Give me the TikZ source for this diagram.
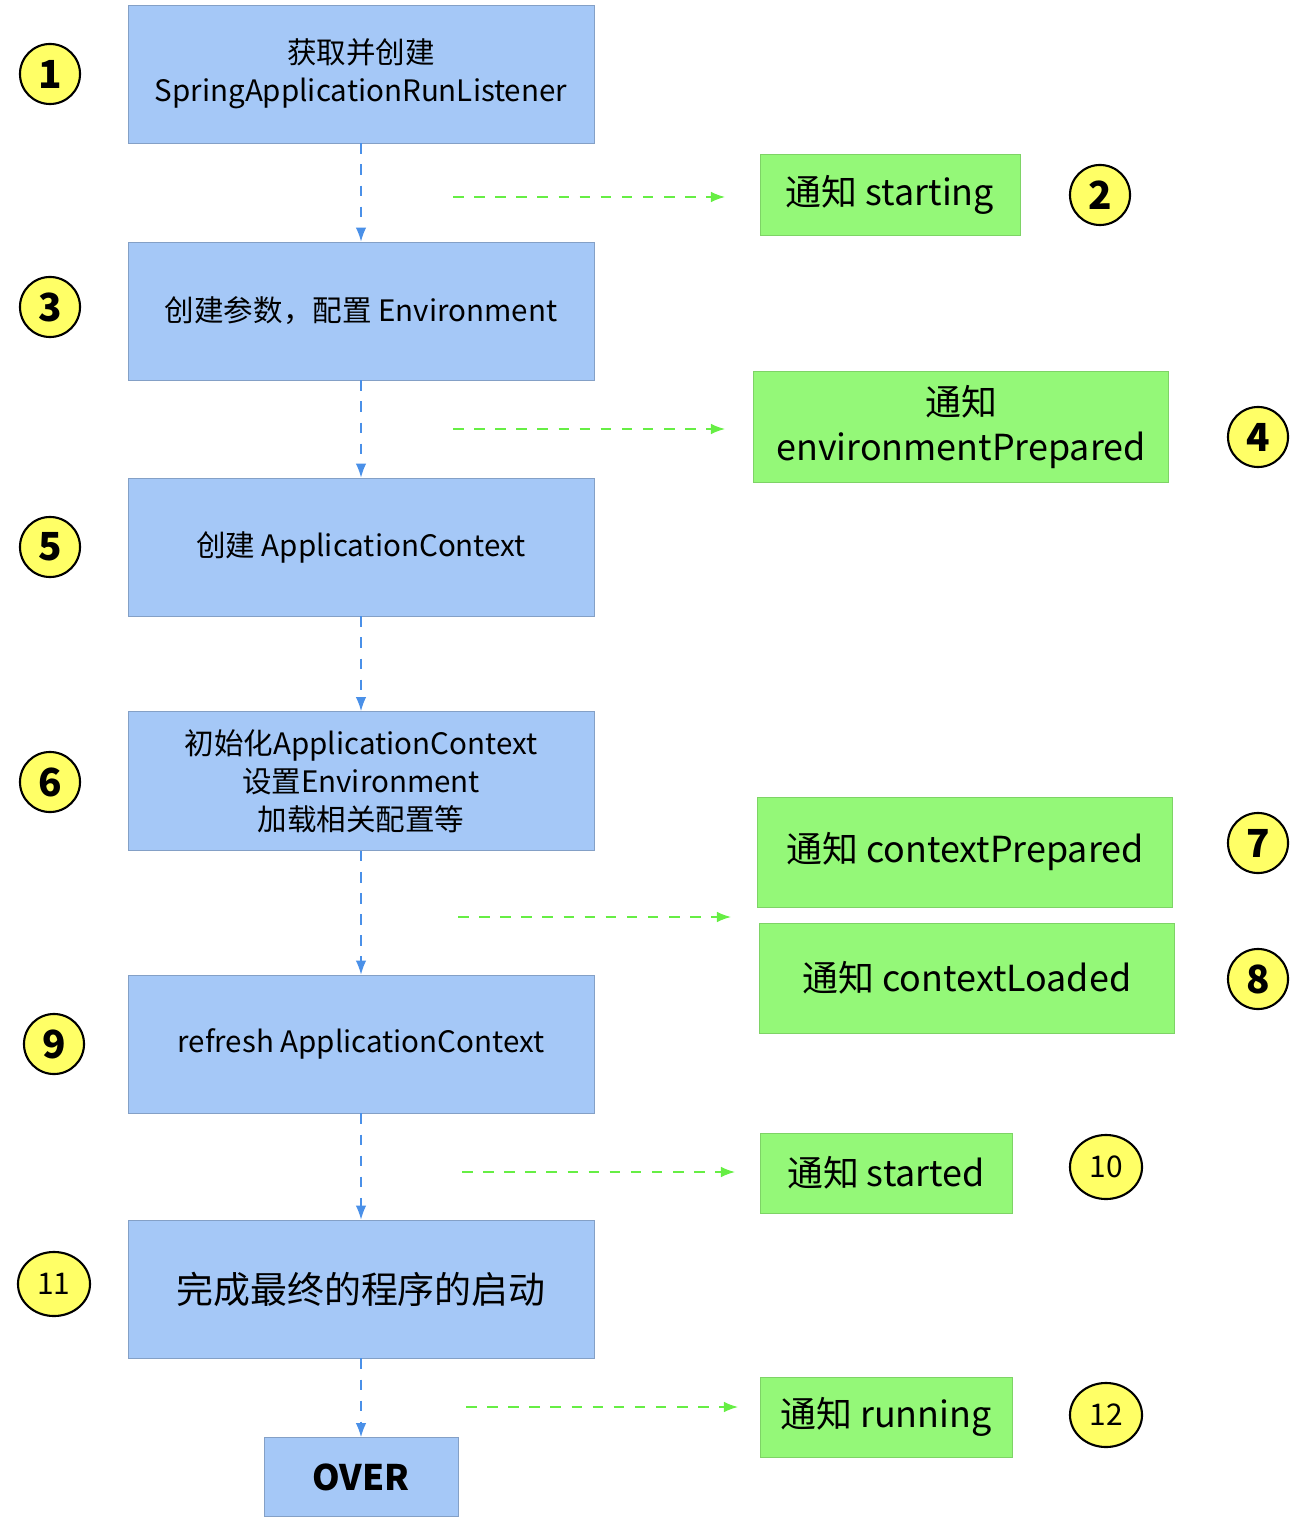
\documentclass[tikz,border=0pt]{standalone}
\usepackage{fontspec}
\setmainfont{Noto Sans CJK SC}
\usetikzlibrary{arrows.meta,shapes.geometric}
\definecolor{stepblue}{HTML}{A5C8F7}
\definecolor{noteGreen}{HTML}{94F878}
\definecolor{numYellow}{HTML}{FFFF66}
\definecolor{flowBlue}{HTML}{4A90E8}
\definecolor{flowGreen}{HTML}{66EE44}
\tikzset{
    stage/.style={fill=stepblue,draw=stepblue!80!black,line width=0.2pt,align=center,font=\fontsize{8.4}{10.8}\selectfont},
    note/.style={fill=noteGreen,draw=noteGreen!85!black,line width=0.2pt,align=center,font=\fontsize{10.2}{13}\selectfont},
    num/.style={circle,fill=numYellow,draw=black,line width=0.6pt,minimum size=0.6cm,inner sep=0pt,font=\bfseries\fontsize{11}{11}\selectfont},
    numwide/.style={ellipse,fill=numYellow,draw=black,line width=0.6pt,minimum width=0.72cm,minimum height=0.64cm,inner sep=0pt,font=\fontsize{8.5}{8.5}\selectfont},
    flow/.style={-{Latex[length=4pt]},flowBlue,dashed,line width=0.4pt},
    notify/.style={-{Latex[length=4pt]},flowGreen,dashed,line width=0.4pt}
}
\begin{document}
\begin{tikzpicture}[x=0.01cm,y=-0.01cm]
    \useasboundingbox (0,0) rectangle (1316,1540);
    % main steps
    \node[stage,minimum width=4.66cm,minimum height=1.38cm] (s1) at (361,74) {获取并创建\\SpringApplicationRunListener};
    \node[stage,minimum width=4.66cm,minimum height=1.38cm] (s3) at (361,311) {创建参数，配置 Environment};
    \node[stage,minimum width=4.66cm,minimum height=1.38cm] (s5) at (361,547) {创建 ApplicationContext};
    \node[stage,minimum width=4.66cm,minimum height=1.39cm] (s6) at (361,781) {初始化ApplicationContext\\设置Environment\\加载相关配置等};
    \node[stage,minimum width=4.66cm,minimum height=1.38cm] (s9) at (361,1044) {refresh ApplicationContext};
    \node[stage,minimum width=4.66cm,minimum height=1.38cm,font=\fontsize{10.5}{13}\selectfont] (s11) at (361,1289) {完成最终的程序的启动};
    \node[stage,minimum width=1.94cm,minimum height=0.79cm,font=\bfseries\fontsize{10}{12}\selectfont] (over) at (361,1477) {OVER};

    % notifications
    \node[note,minimum width=2.6cm,minimum height=0.81cm] (n2) at (890,195) {通知 starting};
    \node[note,minimum width=4.15cm,minimum height=1.11cm] (n4) at (961,427) {通知\\environmentPrepared};
    \node[note,minimum width=4.15cm,minimum height=1.1cm] (n7) at (965,852) {通知 contextPrepared};
    \node[note,minimum width=4.15cm,minimum height=1.1cm] (n8) at (967,978) {通知 contextLoaded};
    \node[note,minimum width=2.52cm,minimum height=0.8cm] (n10) at (886,1173) {通知 started};
    \node[note,minimum width=2.52cm,minimum height=0.8cm] (n12) at (886,1417) {通知 running};

    % numbers
    \node[num] (c1) at (50,74) {1};
    \node[num] (c2) at (1100,195) {2};
    \node[num] (c3) at (50,307) {3};
    \node[num] (c4) at (1258,437) {4};
    \node[num] (c5) at (50,547) {5};
    \node[num] (c6) at (50,782) {6};
    \node[num] (c7) at (1258,843) {7};
    \node[num] (c8) at (1258,979) {8};
    \node[num] (c9) at (54,1044) {9};
    \node[numwide] (c10) at (1106,1167) {10};
    \node[numwide] (c11) at (54,1284) {11};
    \node[numwide] (c12) at (1106,1415) {12};

    % flow
    \draw[flow] (s1) -- (s3);
    \draw[flow] (s3) -- (s5);
    \draw[flow] (s5) -- (s6);
    \draw[flow] (s6) -- (s9);
    \draw[flow] (s9) -- (s11);
    \draw[flow] (s11) -- (over);

    % events
    \coordinate (e2) at (453,197);
    \coordinate (e4) at (453,429);
    \coordinate (e7) at (458,917);
    \coordinate (e10) at (462,1172);
    \coordinate (e12) at (466,1407);
    \draw[notify] (e2) -- (725,197);
    \draw[notify] (e4) -- (725,429);
    \draw[notify] (e7) -- (731,917);
    \draw[notify] (e10) -- (735,1172);
    \draw[notify] (e12) -- (738,1407);
\end{tikzpicture}
\end{document}
